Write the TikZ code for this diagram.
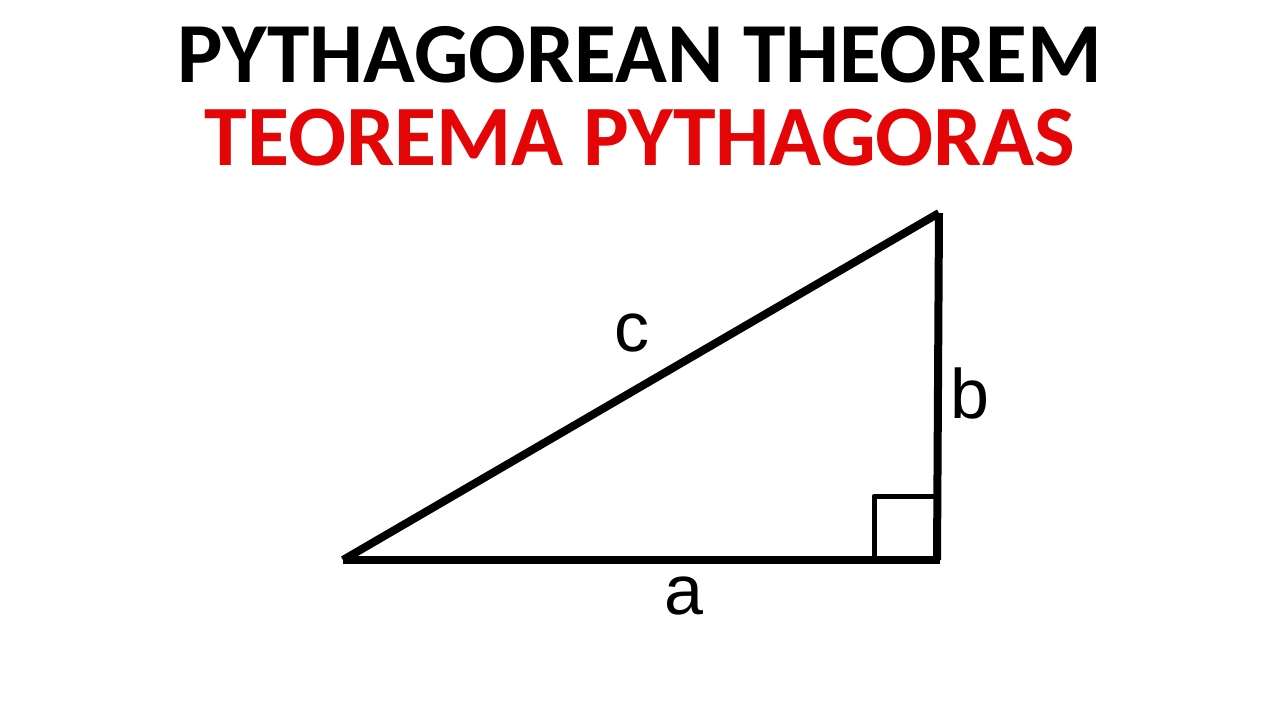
\documentclass[tikz,border=0pt]{standalone}
\usepackage{fontspec}
\setmainfont{Liberation Sans}
\newfontfamily\titlefont{Carlito}
\begin{document}
\begin{tikzpicture}[x=1pt,y=-1pt,
  titleA/.style={font=\titlefont\bfseries\fontsize{78}{80}\selectfont, inner sep=0pt},
  lbl/.style={font=\fontsize{70}{72}\selectfont, inner sep=0pt},
  side/.style={line width=8pt},
  corner/.style={line width=5pt, line join=round}]
\fill[white] (0,0) rectangle (1280,720);
\useasboundingbox (0,0) rectangle (1280,720);
% titles
\definecolor{tred}{RGB}{228,6,6}
\node[titleA, text=black] (t1) at (640,55) {\resizebox{924pt}{!}{PYTHAGOREAN THEOREM}};
\node[titleA, text=tred] (t2) at (640,138) {\resizebox{870pt}{!}{TEOREMA PYTHAGORAS}};
% triangle
\coordinate (A) at (343,560);
\coordinate (B) at (937,560);
\coordinate (C) at (939,213);
\draw[side] (A) -- ([xshift=3pt]B);
\draw[side] (B) -- (C);
\draw[side] (A) -- (C);
\draw[corner] (936,560) -- (874,560) -- (874,496) -- (936,496);
\node[lbl] (c) at (632,333) {c};
\node[lbl] (b) at (970,393) {b};
\node[lbl] (a) at (684,596) {a};
\end{tikzpicture}
\end{document}
